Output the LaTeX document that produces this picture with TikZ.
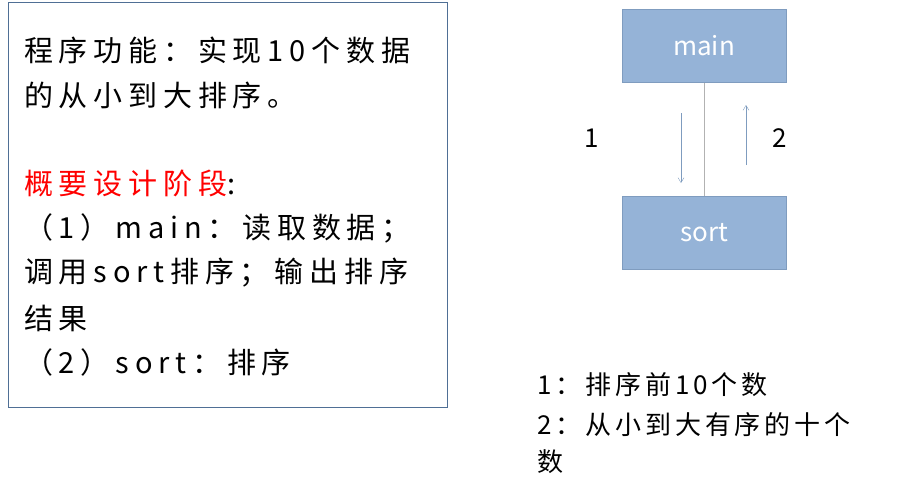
\documentclass[tikz,border=0pt]{standalone}
\usepackage{fontspec}
\setmainfont{Noto Sans CJK SC}
\newfontfamily\spaced[LetterSpace=20]{Noto Sans CJK SC}
\newfontfamily\spacedb[LetterSpace=15]{Noto Sans CJK SC}
\usetikzlibrary{arrows.meta}
\definecolor{boxfill}{HTML}{95B3D7}
\definecolor{boxline}{HTML}{7F9CBF}
\definecolor{frame}{HTML}{4F6F95}
\begin{document}
\begin{tikzpicture}[x=1pt,y=-1pt,
  txt/.style={anchor=west,inner sep=0pt,font=\spaced\fontsize{29}{30}\selectfont},
  leg/.style={anchor=west,inner sep=0pt,font=\spacedb\fontsize{26}{30}\selectfont},
  blk/.style={draw=boxline,fill=boxfill,minimum width=164pt,minimum height=73pt,inner sep=0pt,text=white,font=\fontsize{26}{28}\selectfont},
  arr/.style={draw=boxline,-{Straight Barb[length=5pt,width=6pt]}}]
\useasboundingbox (0,0) rectangle (906,499);
\draw[frame,line width=1pt] (8,2) rectangle (447,407);
\node[txt] (l1) at (24,50) {程序功能：实现10个数据};
\node[txt] (l2) at (24,95) {的从小到大排序。};
\node[txt,text=red] (l3) at (24,183) {概要设计阶段\textcolor{black}{:}};
\node[txt] (l4) at (24,228) {（1）main：读取数据；};
\node[txt] (l5) at (24,273) {调用sort排序；输出排序};
\node[txt] (l6) at (24,318) {结果};
\node[txt] (l7) at (24,362) {（2）sort：排序};
\node[blk] (main) at (704,46) {main};
\node[blk] (sort) at (704,233) {sort};
\draw[gray!60] (main.south) -- (sort.north);
\coordinate (a1) at (681,113); \coordinate (a2) at (681,183);
\coordinate (b1) at (746,165); \coordinate (b2) at (746,105);
\draw[arr] (a1) -- (a2);
\draw[arr] (b1) -- (b2);
\node[leg] (n1) at (584,138) {1};
\node[leg] (n2) at (772,138) {2};
\node[leg] (g1) at (537,385) {1：排序前10个数};
\node[leg] (g2) at (537,425) {2：从小到大有序的十个};
\node[leg] (g3) at (537,462) {数};
\end{tikzpicture}
\end{document}
